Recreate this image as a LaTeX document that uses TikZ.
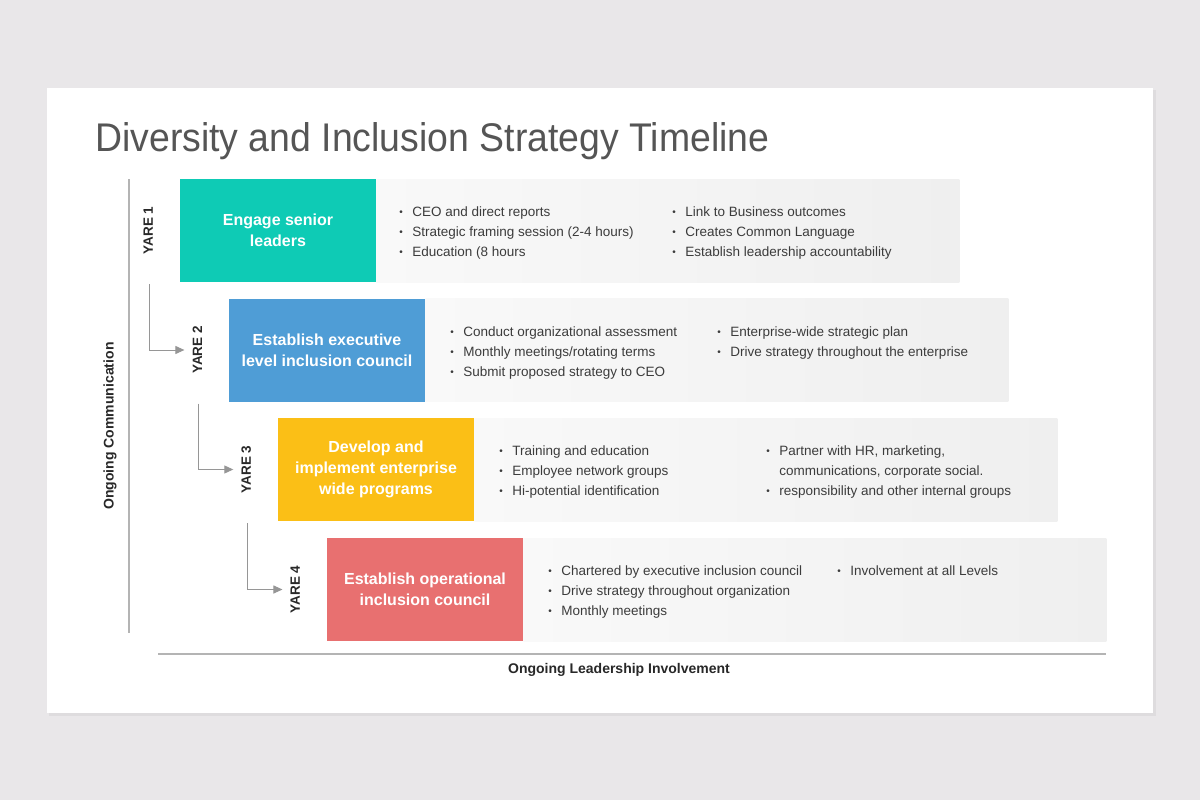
\documentclass[tikz,border=0pt]{standalone}
\usepackage{fontspec}
\setmainfont{Liberation Sans}
\newfontfamily\titlefont[FakeStretch=0.935]{Liberation Sans}
\usepackage{xcolor}
\usepackage{tikz}
\usetikzlibrary{positioning, calc, arrows.meta}
\definecolor{Backdrop}{RGB}{233,231,233}
\definecolor{Shade}{RGB}{222,220,222}
\definecolor{TitleInk}{RGB}{85,85,85}
\definecolor{Ink}{RGB}{40,40,40}
\definecolor{Body}{RGB}{60,60,60}
\definecolor{Rule}{RGB}{180,180,180}
\definecolor{Flow}{RGB}{150,150,150}
\definecolor{PanelL}{RGB}{249,249,249}
\definecolor{PanelR}{RGB}{239,239,239}
\definecolor{Teal}{RGB}{14,203,181}
\definecolor{Sky}{RGB}{79,157,214}
\definecolor{Amber}{RGB}{251,191,22}
\definecolor{Coral}{RGB}{232,112,112}
\tikzset{
	stepbox/.style={draw=none, minimum width=196pt, minimum height=103pt, inner sep=0pt, align=center, text=white, font=\fontsize{16}{21}\selectfont\bfseries},
	panel/.style={anchor=west, minimum width=583pt, minimum height=103pt, inner sep=0pt, left color=PanelL, right color=PanelR},
	yearlab/.style={rotate=90, inner sep=0pt, text=Ink, font=\fontsize{13.5}{16}\selectfont\bfseries},
	points/.style={anchor=north west, align=left, inner sep=0pt, text=Body, font=\fontsize{13.5}{20}\selectfont},
	flow/.style={draw=Flow, line width=1pt, -{Triangle[length=9pt,width=8pt]}},
	axisline/.style={draw=Rule, line width=1.5pt},
	axislab/.style={inner sep=0pt, text=Ink, font=\fontsize{14}{16}\selectfont\bfseries},
}
\newcommand{\itm}{\makebox[13pt][l]{\raisebox{0.15ex}{\fontsize{10}{10}\selectfont •}}}

\begin{document}
\begin{tikzpicture}[x=1pt, y=-1pt]
\useasboundingbox (0,0) rectangle (1200,800);
\fill[Backdrop] (0,0) rectangle (1200,800);
\fill[Shade] (49,90) rectangle (1156,716);
\fill[white] (47,88) rectangle (1153,713);

\node[anchor=base west, inner sep=0pt, text=TitleInk, font=\titlefont\fontsize{40}{40}\selectfont] (title) at (95,151) {Diversity and Inclusion Strategy Timeline};

% axes
\coordinate (vtop) at (129,179);
\coordinate (vbot) at (129,633);
\coordinate (hleft) at (158,654);
\coordinate (hright) at (1106,654);
\draw[axisline] (vtop) -- (vbot);
\draw[axisline] (hleft) -- (hright);
\node[axislab, rotate=90] (comm) at (110,426) {Ongoing Communication};
\node[axislab] (lead) at (619,670) {Ongoing Leadership Involvement};

% year 1
\node[stepbox, fill=Teal] (box1) at (278,230.5) {Engage senior\\leaders};
\node[panel] (info1) at (box1.east) {};
\node[yearlab] (year1) at ([xshift=-31.5pt]box1.west) {YARE 1};
\node[points] (pts1a) at ([xshift=23pt, yshift=-28pt]box1.north east) {\itm CEO and direct reports\\ \itm Strategic framing session (2-4 hours)\\ \itm Education (8 hours};
\node[points] (pts1b) at ([xshift=296pt, yshift=-28pt]box1.north east) {\itm Link to Business outcomes\\ \itm Creates Common Language\\ \itm Establish leadership accountability};

% year 2
\node[stepbox, fill=Sky] (box2) at (327,350) {Establish executive\\level inclusion council};
\node[panel] (info2) at (box2.east) {};
\node[yearlab] (year2) at ([xshift=-31.5pt]box2.west) {YARE 2};
\node[points] (pts2a) at ([xshift=25pt, yshift=-28pt]box2.north east) {\itm Conduct organizational assessment\\ \itm Monthly meetings/rotating terms\\ \itm Submit proposed strategy to CEO};
\node[points] (pts2b) at ([xshift=292pt, yshift=-28pt]box2.north east) {\itm Enterprise-wide strategic plan\\ \itm Drive strategy throughout the enterprise};

% year 3
\node[stepbox, fill=Amber] (box3) at (376,469.5) {Develop and\\implement enterprise\\wide programs};
\node[panel] (info3) at (box3.east) {};
\node[yearlab] (year3) at ([xshift=-31.5pt]box3.west) {YARE 3};
\node[points] (pts3a) at ([xshift=25pt, yshift=-28pt]box3.north east) {\itm Training and education\\ \itm Employee network groups\\ \itm Hi-potential identification};
\node[points] (pts3b) at ([xshift=292pt, yshift=-28pt]box3.north east) {\itm Partner with HR, marketing,\\ \hspace*{13pt}communications, corporate social.\\ \itm responsibility and other internal groups};

% year 4
\node[stepbox, fill=Coral] (box4) at (425,589.5) {Establish operational\\inclusion council};
\node[panel] (info4) at (box4.east) {};
\node[yearlab] (year4) at ([xshift=-31.5pt]box4.west) {YARE 4};
\node[points] (pts4a) at ([xshift=25pt, yshift=-28pt]box4.north east) {\itm Chartered by executive inclusion council\\ \itm Drive strategy throughout organization\\ \itm Monthly meetings};
\node[points] (pts4b) at ([xshift=314pt, yshift=-28pt]box4.north east) {\itm Involvement at all Levels};

% flow between years
\draw[flow] ([xshift=1.5pt, yshift=-2pt]year1.center |- box1.south) -- ([xshift=1.5pt]year1.center |- year2.center) -- ([xshift=-8pt]year2.north);
\draw[flow] ([xshift=1.5pt, yshift=-2pt]year2.center |- box2.south) -- ([xshift=1.5pt]year2.center |- year3.center) -- ([xshift=-8pt]year3.north);
\draw[flow] ([xshift=1.5pt, yshift=-2pt]year3.center |- box3.south) -- ([xshift=1.5pt]year3.center |- year4.center) -- ([xshift=-8pt]year4.north);

\end{tikzpicture}
\end{document}
